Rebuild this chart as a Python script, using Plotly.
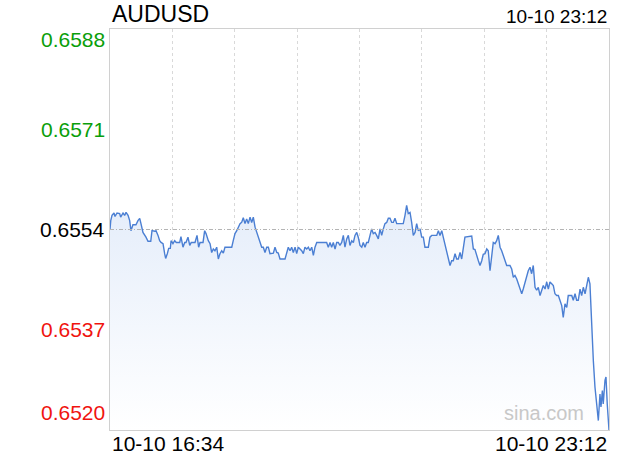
import plotly.graph_objects as go

# ---- data ----
symbol = "AUDUSD"
start_label = "10-10 16:34"
end_label = "10-10 23:12"
prev_close = 0.6554
y_ticks = [0.6588, 0.6571, 0.6554, 0.6537, 0.6520]
y_min, y_max = 0.6520, 0.6588
total_minutes = 398  # 16:34 -> 23:12

minutes = [
    0, 0.6, 1.6, 3.2, 4.0, 5.6, 7.7, 8.5, 10.4, 11.7, 12.8, 14.4, 15.7, 16.7, 18.3, 20.7,
    22.3, 23.7, 24.7, 26.3, 28.7, 30.3, 32.5, 33.5, 35.7, 36.7, 38.3, 39.6, 40.7, 42.3,
    43.6, 44.4, 45.7, 46.8, 48.1, 48.7, 50.2, 51.6, 52.9, 55.6, 56.6, 58.2, 59.6, 60.6,
    62.2, 63.6, 64.8, 67.8, 69.4, 70.7, 71.8, 74.2, 75.5, 76.6, 78.4, 79.8, 81.1, 82.4,
    83.7, 85.1, 86.4, 87.7, 89.1, 90.4, 91.7, 97.1, 98.3, 99.7, 101.1, 102.3, 103.7,
    105.0, 106.3, 107.7, 109.0, 110.3, 111.7, 113.0, 114.3, 115.7, 117.0, 118.3, 119.6,
    121.0, 122.3, 123.6, 125.0, 126.3, 127.6, 130.3, 131.6, 133.0, 134.2, 135.6, 139.6,
    140.9, 142.2, 143.6, 144.9, 146.2, 147.6, 148.9, 150.2, 152.9, 154.2, 155.5, 156.9,
    158.2, 159.5, 160.9, 162.2, 163.5, 164.9, 172.8, 174.1, 175.5, 176.8, 178.1, 179.5,
    180.8, 182.1, 183.4, 184.8, 186.1, 187.4, 188.8, 190.1, 191.4, 192.8, 194.1, 195.4,
    196.8, 198.0, 199.4, 200.8, 202.0, 203.4, 204.7, 206.0, 207.4, 208.7, 210.0, 211.4,
    212.7, 214.0, 215.4, 216.7, 218.0, 219.3, 220.7, 222.0, 223.3, 224.7, 226.0, 227.3,
    228.7, 233.9, 235.3, 236.6, 237.9, 239.3, 240.6, 241.9, 243.3, 244.6, 245.9, 247.3,
    248.6, 249.9, 251.2, 253.9, 255.2, 256.6, 260.6, 261.9, 263.2, 264.6, 265.8, 267.2,
    268.5, 269.8, 271.2, 272.5, 273.8, 275.2, 276.5, 277.8, 279.2, 280.5, 281.8, 283.1,
    288.5, 289.8, 291.1, 292.5, 293.8, 295.1, 296.5, 297.7, 299.1, 300.5, 301.7, 303.1,
    304.4, 305.7, 307.1, 308.4, 309.7, 311.1, 312.4, 313.7, 315.1, 316.4, 319.0, 320.4,
    321.7, 323.0, 324.4, 325.7, 327.0, 328.4, 329.6, 331.0, 332.4, 333.6, 335.0, 336.3,
    337.6, 339.0, 340.3, 341.6, 343.0, 344.3, 345.6, 347.0, 348.3, 349.6, 350.9, 352.3,
    353.6, 354.9, 356.3, 357.6, 358.9, 360.3, 361.5, 362.9, 364.3, 365.5, 368.3, 369.5,
    370.9, 372.2, 373.5, 374.9, 376.2, 377.5, 378.9, 380.2, 381.5, 382.8, 384.2, 385.5,
    386.8, 388.2, 389.5, 390.8, 391.6, 392.7, 393.4, 394.8, 395.6, 396.6, 398.0,
]

prices = [
    0.65540, 0.65555, 0.65564, 0.65568, 0.65562, 0.65568, 0.65567, 0.65561, 0.65568, 0.65564,
    0.65569, 0.65564, 0.65555, 0.65538, 0.65548, 0.65548, 0.65555, 0.65559, 0.65550, 0.65535,
    0.65527, 0.65520, 0.65520, 0.65538, 0.65537, 0.65538, 0.65530, 0.65521, 0.65518, 0.65516,
    0.65499, 0.65491, 0.65499, 0.65508, 0.65508, 0.65521, 0.65516, 0.65521, 0.65518, 0.65518,
    0.65528, 0.65510, 0.65518, 0.65518, 0.65527, 0.65513, 0.65518, 0.65518, 0.65530, 0.65510,
    0.65518, 0.65518, 0.65538, 0.65533, 0.65521, 0.65516, 0.65501, 0.65507, 0.65504, 0.65510,
    0.65490, 0.65499, 0.65504, 0.65500, 0.65510, 0.65510, 0.65521, 0.65533, 0.65538, 0.65544,
    0.65550, 0.65552, 0.65560, 0.65550, 0.65558, 0.65550, 0.65561, 0.65552, 0.65561, 0.65544,
    0.65535, 0.65527, 0.65518, 0.65510, 0.65510, 0.65501, 0.65510, 0.65510, 0.65499, 0.65500,
    0.65510, 0.65501, 0.65500, 0.65490, 0.65490, 0.65501, 0.65510, 0.65504, 0.65510, 0.65501,
    0.65510, 0.65499, 0.65510, 0.65504, 0.65499, 0.65510, 0.65507, 0.65510, 0.65504, 0.65510,
    0.65496, 0.65510, 0.65518, 0.65518, 0.65510, 0.65518, 0.65510, 0.65518, 0.65507, 0.65518,
    0.65518, 0.65513, 0.65518, 0.65530, 0.65510, 0.65524, 0.65530, 0.65513, 0.65521, 0.65518,
    0.65530, 0.65535, 0.65527, 0.65513, 0.65510, 0.65518, 0.65510, 0.65518, 0.65518, 0.65530,
    0.65541, 0.65533, 0.65535, 0.65530, 0.65524, 0.65541, 0.65530, 0.65541, 0.65550, 0.65552,
    0.65559, 0.65559, 0.65552, 0.65552, 0.65559, 0.65550, 0.65550, 0.65564, 0.65581, 0.65567,
    0.65569, 0.65552, 0.65530, 0.65535, 0.65550, 0.65538, 0.65541, 0.65527, 0.65527, 0.65510,
    0.65510, 0.65527, 0.65530, 0.65530, 0.65538, 0.65530, 0.65538, 0.65527, 0.65513, 0.65501,
    0.65490, 0.65479, 0.65487, 0.65487, 0.65499, 0.65490, 0.65490, 0.65501, 0.65490, 0.65507,
    0.65527, 0.65529, 0.65507, 0.65506, 0.65494, 0.65487, 0.65479, 0.65487, 0.65498, 0.65499,
    0.65507, 0.65504, 0.65470, 0.65491, 0.65518, 0.65516, 0.65521, 0.65530, 0.65510, 0.65504,
    0.65496, 0.65487, 0.65479, 0.65479, 0.65473, 0.65459, 0.65462, 0.65456, 0.65448, 0.65437,
    0.65431, 0.65439, 0.65451, 0.65462, 0.65470, 0.65476, 0.65465, 0.65479, 0.65442, 0.65437,
    0.65442, 0.65428, 0.65439, 0.65445, 0.65439, 0.65451, 0.65439, 0.65451, 0.65448, 0.65445,
    0.65431, 0.65428, 0.65428, 0.65420, 0.65411, 0.65391, 0.65414, 0.65408, 0.65428, 0.65428,
    0.65420, 0.65431, 0.65420, 0.65420, 0.65439, 0.65428, 0.65442, 0.65431, 0.65448, 0.65459,
    0.65448, 0.65374, 0.65318, 0.65273, 0.65244, 0.65216, 0.65261, 0.65239, 0.65267, 0.65244,
    0.65284, 0.65290, 0.65244, 0.65200,
]

FONT = "Arial, Liberation Sans, sans-serif"
GREEN = "#0a9e0a"
RED = "#f0140f"

fig = go.Figure()
fig.add_trace(go.Scatter(
    x=minutes, y=prices, mode="lines",
    line=dict(color="#4b7fd3", width=1.4),
    fill="tozeroy",
    fillgradient=dict(type="vertical", start=y_min, stop=0.6570,
                      colorscale=[[0, "#ffffff"], [1, "#dde8f9"]]),
    hoverinfo="skip",
))

# previous close reference line
fig.add_shape(type="line", xref="paper", x0=0, x1=1, yref="y", y0=prev_close, y1=prev_close,
              line=dict(color="#b4b4b4", width=1, dash="4px,2px,1px,2px"), layer="above")

annotations = []
for v in y_ticks:
    color = GREEN if v > prev_close else (RED if v < prev_close else "#000000")
    if v == y_max:
        ya, ys = "top", 3
    elif v == y_min:
        ya, ys = "bottom", 4
    else:
        ya, ys = "middle", 0
    annotations.append(dict(xref="paper", x=0, xanchor="right", xshift=-3,
                            yref="y", y=v, yanchor=ya, yshift=ys,
                            text=f"{v:.4f}", showarrow=False,
                            font=dict(family=FONT, size=21, color=color)))

annotations += [
    dict(xref="paper", x=0, xanchor="left", yref="paper", y=1, yanchor="bottom",
         text=symbol, showarrow=False, font=dict(family=FONT, size=23, color="#000")),
    dict(xref="paper", x=1, xanchor="right", yref="paper", y=1, yanchor="bottom",
         text=end_label, showarrow=False, font=dict(family=FONT, size=19, color="#000")),
    dict(xref="paper", x=0, xanchor="left", yref="paper", y=0, yanchor="top",
         text=start_label, showarrow=False, font=dict(family=FONT, size=21, color="#000")),
    dict(xref="paper", x=1, xanchor="right", yref="paper", y=0, yanchor="top",
         text=end_label, showarrow=False, font=dict(family=FONT, size=21, color="#000")),
    dict(xref="paper", x=0.953, xanchor="right", yref="paper", y=0.042, yanchor="middle",
         text="sina.com", showarrow=False, font=dict(family=FONT, size=20, color="#c8c8c8")),
]

fig.update_layout(
    width=620, height=460,
    margin=dict(l=110, r=11, t=29, b=30),
    paper_bgcolor="white", plot_bgcolor="white",
    showlegend=False,
    annotations=annotations,
    xaxis=dict(range=[0, total_minutes], tick0=0, dtick=total_minutes / 8,
               showticklabels=False, ticks="", zeroline=False,
               showgrid=True, gridcolor="#d9d9d9", griddash="dot", gridwidth=1,
               showline=True, linecolor="#d0d0d0", linewidth=1, mirror=True),
    yaxis=dict(range=[y_min, y_max], showticklabels=False, ticks="", zeroline=False,
               showgrid=False,
               showline=True, linecolor="#d0d0d0", linewidth=1, mirror=True),
)

# remove the default page margin so the 620x460 figure fills the window exactly
fig.write_html("out.html",
               config={"displayModeBar": False},
               post_script="document.body.style.margin='0px';document.body.style.overflow='hidden';")
